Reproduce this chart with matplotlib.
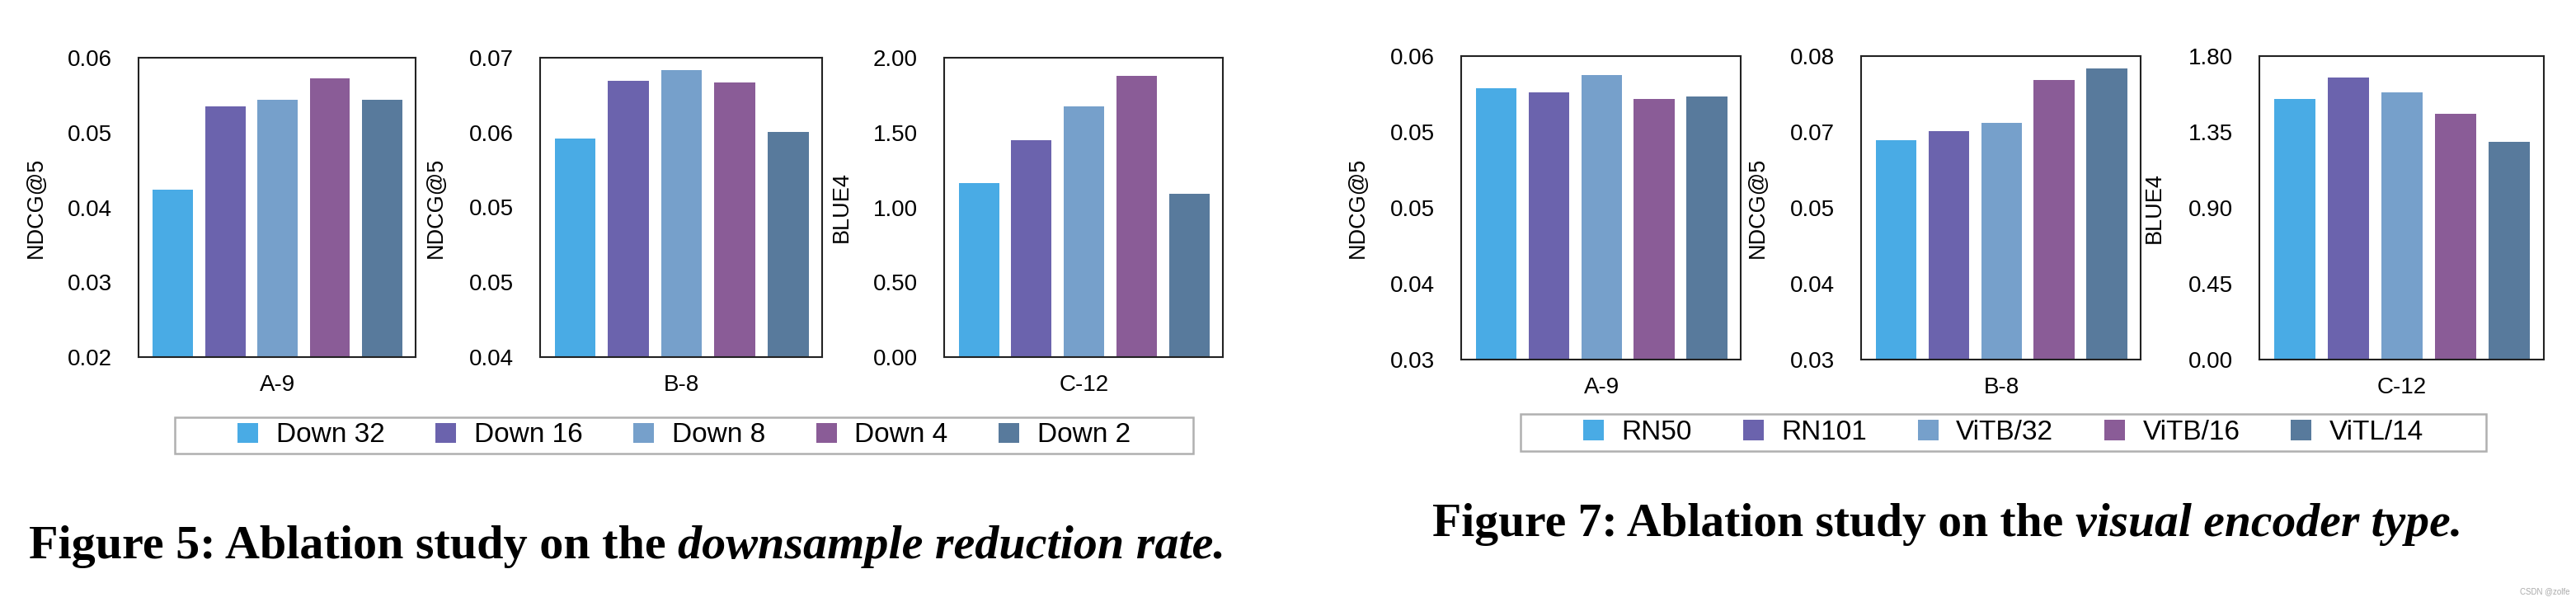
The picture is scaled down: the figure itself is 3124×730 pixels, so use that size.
import numpy as np
import matplotlib
matplotlib.use('Agg')
import matplotlib.pyplot as plt
from matplotlib.patches import Patch, Rectangle

plt.rcParams['font.family'] = ['Liberation Sans', 'DejaVu Sans']

W, H = 3124, 730

## Data
groups = ['A-9', 'B-8', 'C-12']
metrics = ['NDCG@5', 'NDCG@5', 'BLUE4']

down_labels = ['Down 32', 'Down 16', 'Down 8', 'Down 4', 'Down 2']
down_a9 = [0.0424, 0.0535, 0.0544, 0.0573, 0.0544]
down_b8 = [0.0619, 0.0677, 0.0688, 0.0675, 0.0626]
down_c12 = [1.161, 1.448, 1.675, 1.877, 1.092]

enc_labels = ['RN50', 'RN101', 'ViTB/32', 'ViTB/16', 'ViTL/14']
enc_a9 = [0.0568, 0.0564, 0.0581, 0.0558, 0.0560]
enc_b8 = [0.0661, 0.0676, 0.0690, 0.0761, 0.0780]
enc_c12 = [1.548, 1.675, 1.587, 1.460, 1.293]

# y ranges and the (oddly rounded) tick labels printed in the paper
down_ylims = [(0.02, 0.06), (0.04, 0.07), (0.0, 2.0)]
down_yticklabels = [['0.02', '0.03', '0.04', '0.05', '0.06'],
                    ['0.04', '0.05', '0.05', '0.06', '0.07'],
                    ['0.00', '0.50', '1.00', '1.50', '2.00']]
enc_ylims = [(0.03, 0.06), (0.03, 0.08), (0.0, 1.8)]
enc_yticklabels = [['0.03', '0.04', '0.05', '0.05', '0.06'],
                   ['0.03', '0.04', '0.05', '0.07', '0.08'],
                   ['0.00', '0.45', '0.90', '1.35', '1.80']]

colors = ['#49ABE5', '#6B63AD', '#76A0CB', '#8A5C97', '#587A9C']

fig = plt.figure(figsize=(W/100, H/100), dpi=100)


def px_axes(x0, x1, y0, y1):
    # pixel box -> figure axes
    return fig.add_axes([x0/W, 1-y1/H, (x1-x0)/W, (y1-y0)/H])


def draw_panel(ax, vals, group, ylab, ylim, yticklabels):
    x = np.arange(len(vals))
    ax.bar(x, vals, width=0.77, color=colors, edgecolor='none')
    ax.set_xlim(-0.66, len(vals)-1+0.64)
    ax.set_ylim(*ylim)
    ax.set_yticks(np.linspace(ylim[0], ylim[1], 5))
    ax.set_yticklabels(yticklabels)
    ax.set_xticks([2])
    ax.set_xticklabels([group])
    ax.tick_params(axis='y', length=0, pad=23, labelsize=20)
    ax.tick_params(axis='x', length=0, pad=15, labelsize=20)
    ax.set_ylabel(ylab, fontsize=19.5)
    ax.yaxis.set_label_coords(-0.33, 0.5)
    for s in ax.spines.values():
        s.set_linewidth(1.5)
        s.set_color('#222222')


left_boxes = [(168, 504), (655, 997), (1145, 1483)]
right_boxes = [(1772, 2111), (2257, 2596), (2740, 3085)]

down_data = [down_a9, down_b8, down_c12]
enc_data = [enc_a9, enc_b8, enc_c12]

for i in range(3):
    ax = px_axes(left_boxes[i][0], left_boxes[i][1], 70, 433)
    draw_panel(ax, down_data[i], groups[i], metrics[i], down_ylims[i], down_yticklabels[i])
    ax = px_axes(right_boxes[i][0], right_boxes[i][1], 68, 436)
    draw_panel(ax, enc_data[i], groups[i], metrics[i], enc_ylims[i], enc_yticklabels[i])


def legend_box(labels, x0, x1, y0, y1):
    handles = [Patch(facecolor=c, edgecolor='none') for c in colors]
    fig.legend(handles, labels, loc='center', ncol=5, frameon=False,
               bbox_to_anchor=((x0+x1)/2/W, 1-(y0+y1)/2/H),
               fontsize=24, handlelength=0.75, handleheight=0.75,
               handletextpad=0.65, columnspacing=1.85, borderpad=0.2)
    fig.patches.append(Rectangle((x0/W, 1-y1/H), (x1-x0)/W, (y1-y0)/H,
                                 transform=fig.transFigure, fill=False,
                                 edgecolor='#b0b0b0', linewidth=1.8))


legend_box(down_labels, 212, 1447, 506, 550)
legend_box(enc_labels, 1844, 3015, 502, 547)

## Captions: bold + bold italic, scaled to the width in the paper
renderer = fig.canvas.get_renderer()


def caption(x0, base, normal, ital, target):
    fs = 38
    kw = dict(family=['Liberation Serif', 'DejaVu Serif'], fontweight='bold', va='baseline')
    t1 = fig.text(x0/W, 1-base/H, normal, fontsize=fs, **kw)
    t2 = fig.text(0, 1-base/H, ital, fontsize=fs, style='italic', **kw)
    w = t1.get_window_extent(renderer).width + t2.get_window_extent(renderer).width
    fs = fs*target/w
    t1.set_fontsize(fs)
    t2.set_fontsize(fs)
    w1 = t1.get_window_extent(renderer).width
    t2.set_x((x0+w1)/W)


caption(35, 677, 'Figure 5: Ablation study on the ', 'downsample reduction rate.', 1450)
caption(1737, 650, 'Figure 7: Ablation study on the ', 'visual encoder type.', 1250)

fig.text(3117/W, 1-717/H, 'CSDN @zolfe', fontsize=7, color='#aaaaaa', ha='right', va='center')

fig.savefig('out.png', dpi=100)
